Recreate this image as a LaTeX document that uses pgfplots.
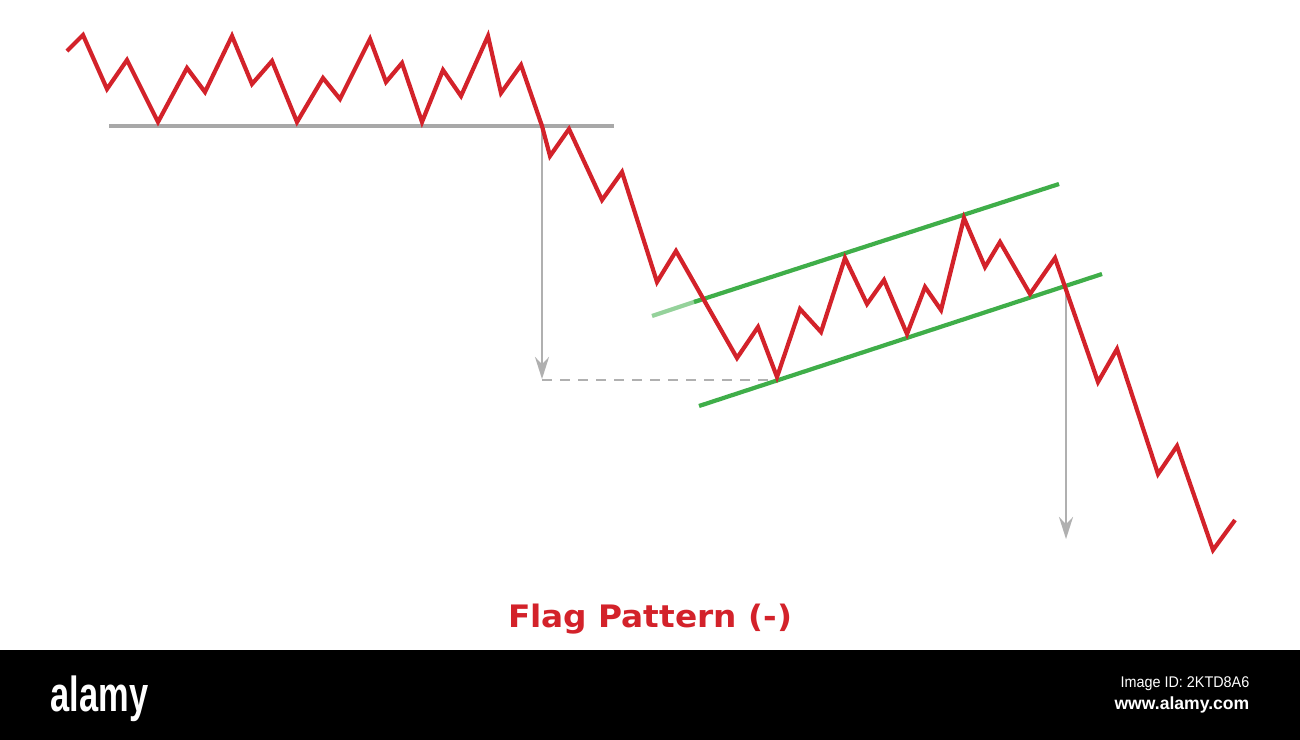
\documentclass[border=0pt]{standalone}
\usepackage{pgfplots}
\pgfplotsset{compat=1.18}
\usepackage{fontspec}
\setmainfont{DejaVu Sans}
\newfontfamily\logofont{Liberation Sans}
\usetikzlibrary{arrows.meta}
\definecolor{flagred}{HTML}{D3222A}
\definecolor{flaggreen}{HTML}{3FAE49}
\definecolor{lvlgray}{HTML}{A8A8A8}
\definecolor{arrgray}{HTML}{B0B0B0}
\begin{document}
\begin{tikzpicture}
  \begin{axis}[
      scale only axis,
      width=13cm, height=7.4cm,
      xmin=0, xmax=1300, ymin=0, ymax=740,
      y dir=reverse,
      hide axis,
      clip=false,
    ]
    % background and footer band
    \addplot[fill=white, draw=none] coordinates {(0,0)(1300,0)(1300,650)(0,650)} -- cycle;
    \addplot[fill=black, draw=none] coordinates {(0,650)(1300,650)(1300,740)(0,740)} -- cycle;

    % support level
    \addplot[lvlgray, line width=0.42mm] coordinates {(109,126)(614,126)};

    % measured moves
    \addplot[arrgray, line width=0.2mm, -{Stealth[length=2.2mm,width=1.4mm]}] coordinates {(542,127)(542,379)};
    \addplot[arrgray, line width=0.2mm, dashed, dash pattern=on 1mm off 0.8mm] coordinates {(542,380)(772,380)};
    \addplot[arrgray, line width=0.2mm, -{Stealth[length=2.2mm,width=1.4mm]}] coordinates {(1066,286)(1066,539)};

    % flag channel
    \addplot[flaggreen!55, line width=0.42mm] coordinates {(652,316)(700,300)};
    \addplot[flaggreen, line width=0.42mm] coordinates {(694,302)(1059,184)};
    \addplot[flaggreen, line width=0.42mm] coordinates {(699,406)(1102,274)};

    % price
    \addplot[flagred, line width=0.42mm, line join=miter] coordinates {
      (67,51)(83,35)(107,89)(127,60)(158,122)(187,68)(205,92)(232,36)
      (252,84)(272,61)(297,122)(323,78)(340,99)(370,39)(386,82)(402,63)
      (422,122)(443,70)(461,96)(488,36)(501,93)(521,65)(542,126)(550,156)
      (569,129)(602,200)(622,172)(657,282)(676,251)(737,358)(758,327)
      (777,377)(800,309)(821,332)(845,258)(867,304)(884,280)(907,334)
      (925,287)(941,310)(964,218)(985,267)(1000,242)(1030,294)(1055,258)
      (1098,382)(1117,349)(1158,474)(1177,446)(1213,550)(1235,520)
    };

    \node[anchor=base, text=flagred] at (axis cs:650,627)
      {\scalebox{1.06}[1]{\fontsize{8.8}{10}\selectfont\bfseries Flag Pattern (-)}};

    \node[anchor=base west, inner sep=0pt, text=white] at (axis cs:50,711)
      {\scalebox{0.7}[1]{\logofont\fontsize{14}{14}\selectfont\bfseries alamy}};
    \node[anchor=base east, inner sep=0pt, text=white] at (axis cs:1250,687)
      {\scalebox{0.93}[1]{\logofont\fontsize{4.4}{5}\selectfont Image ID: 2KTD8A6}};
    \node[anchor=base east, inner sep=0pt, text=white] at (axis cs:1250,709)
      {\scalebox{1.0}[1]{\logofont\fontsize{5}{6}\selectfont\bfseries www.alamy.com}};
  \end{axis}
  \pgfresetboundingbox
  \path (0,0) rectangle (13cm,7.4cm);
\end{tikzpicture}
\end{document}
